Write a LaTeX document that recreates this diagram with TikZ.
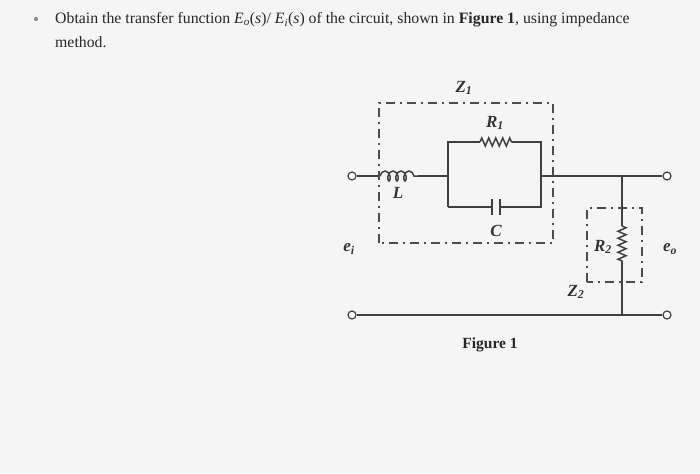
\documentclass[tikz,border=0pt]{standalone}
\usepackage{fontspec}
\setmainfont{Liberation Serif}
\usetikzlibrary{decorations.pathmorphing,decorations.pathreplacing}
\begin{document}
\begin{tikzpicture}[x=1pt,y=-1pt,
  wire/.style={line width=1.5pt,black!75},
  zbox/.style={line width=1.4pt,black!70,dash pattern=on 9pt off 5pt on 2pt off 5pt},
  term/.style={circle,draw=black!75,fill=white,line width=1.2pt,inner sep=0pt,minimum size=8pt},
  lbl/.style={font=\fontsize{17}{20}\selectfont\itshape\bfseries,inner sep=0pt,text=black!80},
  res/.style={decorate,decoration={zigzag,segment length=7pt,amplitude=4pt}},
  coil/.style={decorate,decoration={coil,segment length=8pt,amplitude=5pt,aspect=0.6}}]
\fill[black!4] (0,0) rectangle (700,473);
\useasboundingbox (0,0) rectangle (700,473);
\node[circle,fill=black!45,inner sep=1.5pt] (bul) at (36,19) {};
\node[anchor=west,font=\fontsize{15.8}{18}\selectfont,inner sep=0pt,text=black!85] (t1) at (55,20) {Obtain the transfer function \textit{E\textsubscript{o}}(\textit{s})/ \textit{E\textsubscript{i}}(\textit{s}) of the circuit, shown in \textbf{Figure 1}, using impedance};
\node[anchor=west,font=\fontsize{15.8}{18}\selectfont,inner sep=0pt,text=black!85] (t2) at (55,42) {method.};
% terminals
\node[term] (a) at (352,176) {};
\node[term] (b) at (667,176) {};
\node[term] (c) at (352,315) {};
\node[term] (d) at (667,315) {};
\coordinate (l1) at (380,176);
\coordinate (l2) at (418,176);
\coordinate (pl) at (448,176);
\coordinate (pr) at (541,176);
\coordinate (plt) at (448,142);
\coordinate (prt) at (541,142);
\coordinate (plb) at (448,207);
\coordinate (prb) at (541,207);
\coordinate (r1a) at (480,142);
\coordinate (r1b) at (512,142);
\coordinate (c1) at (492,207);
\coordinate (c2) at (500,207);
\coordinate (j) at (622,176);
\coordinate (jb) at (622,315);
\coordinate (r2a) at (622,226);
\coordinate (r2b) at (622,262);
\draw[wire] (a) -- (l1);
\draw[wire,coil] (l1) -- (l2);
\draw[wire] (l2) -- (pl);
\draw[wire] (plb) -- (plt) -- (r1a);
\draw[wire,res] (r1a) -- (r1b);
\draw[wire] (r1b) -- (prt) -- (prb) -- (c2);
\draw[wire] (plb) -- (c1);
\draw[wire] ([yshift=-8]c1) -- ([yshift=8]c1);
\draw[wire] ([yshift=-8]c2) -- ([yshift=8]c2);
\draw[wire] (pr) -- (b);
\draw[wire] (j) -- (r2a);
\draw[wire,res] (r2a) -- (r2b);
\draw[wire] (r2b) -- (jb);
\draw[wire] (c) -- (d);
\draw[zbox] (379,243) -- (379,103) -- (553,103) -- (553,243) -- cycle;
\draw[zbox] (587,282) -- (587,208) -- (642,208) -- (642,282) -- cycle;
\node[lbl] (z1) at (464,88) {Z\textsubscript{1}};
\node[lbl] (lr1) at (495,123) {R\textsubscript{1}};
\node[lbl] (lL) at (398,193) {L};
\node[lbl] (lC) at (496,231) {C};
\node[lbl] (lR2) at (603,247) {R\textsubscript{2}};
\node[lbl] (z2) at (576,292) {Z\textsubscript{2}};
\node[lbl] (ei) at (349,249) {e\textsubscript{i}};
\node[lbl] (eo) at (670,249) {e\textsubscript{o}};
\node[font=\fontsize{15.5}{18}\selectfont\bfseries,inner sep=0pt,text=black!85] (fig) at (490,345) {Figure 1};
\end{tikzpicture}
\end{document}
